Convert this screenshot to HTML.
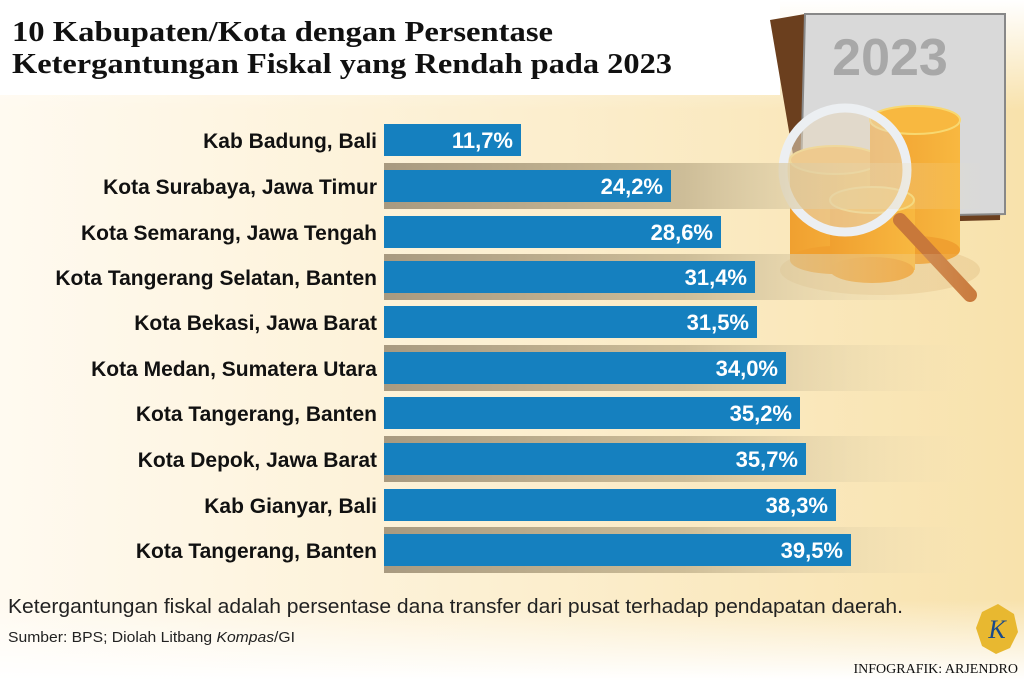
<!DOCTYPE html>
<html><head><meta charset="utf-8"><style>
body{margin:0;width:1024px;height:680px;overflow:hidden;background:#fff}
svg{display:block}
</style></head><body>
<svg width="1024" height="680" viewBox="0 0 1024 680" xmlns="http://www.w3.org/2000/svg">
<defs>
<linearGradient id="bg" x1="0" y1="0" x2="1" y2="0">
<stop offset="0" stop-color="#fffaf0"/><stop offset="0.5" stop-color="#fcefd0"/><stop offset="1" stop-color="#f8e2ac"/>
</linearGradient>
<linearGradient id="fadeTop" x1="0" y1="0" x2="0" y2="1">
<stop offset="0" stop-color="#fff" stop-opacity="1"/><stop offset="1" stop-color="#fff" stop-opacity="0"/>
</linearGradient>
<linearGradient id="fadeBot" x1="0" y1="0" x2="0" y2="1">
<stop offset="0" stop-color="#fff" stop-opacity="0"/><stop offset="1" stop-color="#fff" stop-opacity="1"/>
</linearGradient>
<linearGradient id="band" x1="0" y1="0" x2="1" y2="0">
<stop offset="0" stop-color="#a89a80"/><stop offset="0.5" stop-color="#cdbd98"/><stop offset="1" stop-color="#f5e4b8" stop-opacity="0"/>
</linearGradient>
<linearGradient id="coin" x1="0" y1="0" x2="1" y2="0">
<stop offset="0" stop-color="#f0a030"/><stop offset="1" stop-color="#f8b840"/>
</linearGradient>
</defs>
<rect width="1024" height="680" fill="url(#bg)"/>
<rect width="1024" height="110" fill="url(#fadeTop)"/>
<rect y="600" width="1024" height="80" fill="url(#fadeBot)"/>
<rect y="0" width="780" height="95" fill="#fff"/>

<polygon points="770,20 805,14 1005,14 1000,220 805,225" fill="#6b3f1e"/>
<polygon points="805,14 1005,14 1005,214 800,218" fill="#d9d9d9" stroke="#888" stroke-width="2"/>
<text x="890" y="75" font-family="Liberation Sans, sans-serif" font-weight="bold" font-size="52" fill="#a8a8a8" text-anchor="middle">2023</text>

<g>
<ellipse cx="880" cy="270" rx="100" ry="25" fill="#e8c890" opacity="0.6"/>
<rect x="790" y="160" width="90" height="100" fill="url(#coin)"/>
<ellipse cx="835" cy="260" rx="45" ry="14" fill="#f0a030"/>
<ellipse cx="835" cy="160" rx="45" ry="14" fill="#f5b855" stroke="#f8d870" stroke-width="2"/>
<rect x="870" y="120" width="90" height="130" fill="url(#coin)"/>
<ellipse cx="915" cy="250" rx="45" ry="14" fill="#f0a030"/>
<ellipse cx="915" cy="120" rx="45" ry="14" fill="#f8b840" stroke="#f8d870" stroke-width="2"/>
<rect x="830" y="200" width="85" height="70" fill="url(#coin)"/>
<ellipse cx="872" cy="270" rx="42" ry="13" fill="#f0a030"/>
<ellipse cx="872" cy="200" rx="42" ry="13" fill="#f8b840" stroke="#f8d870" stroke-width="2"/>
<line x1="900" y1="220" x2="970" y2="295" stroke="#c8783a" stroke-width="14" stroke-linecap="round"/>
<circle cx="845" cy="170" r="62" fill="#e8d8c0" fill-opacity="0.55" stroke="#eceff2" stroke-width="9"/>
</g>

<g font-family="Liberation Serif, serif" font-weight="bold" font-size="29" fill="#111">
<text x="12" y="41" textLength="541" lengthAdjust="spacingAndGlyphs">10 Kabupaten/Kota dengan Persentase</text>
<text x="12" y="73" textLength="660" lengthAdjust="spacingAndGlyphs">Ketergantungan Fiskal yang Rendah pada 2023</text>
</g>

<g fill="url(#band)">
<rect x="384" y="163" width="600" height="46"/>
<rect x="384" y="254" width="600" height="46"/>
<rect x="384" y="345" width="600" height="46"/>
<rect x="384" y="436" width="600" height="46"/>
<rect x="384" y="527" width="600" height="46"/>
</g>

<g fill="#1580bf">
<rect x="384" y="124" width="137" height="32"/>
<rect x="384" y="170" width="287" height="32"/>
<rect x="384" y="216" width="337" height="32"/>
<rect x="384" y="261" width="371" height="32"/>
<rect x="384" y="306" width="373" height="32"/>
<rect x="384" y="352" width="402" height="32"/>
<rect x="384" y="397" width="416" height="32"/>
<rect x="384" y="443" width="422" height="32"/>
<rect x="384" y="489" width="452" height="32"/>
<rect x="384" y="534" width="467" height="32"/>
</g>

<g font-family="Liberation Sans, sans-serif" font-weight="bold" font-size="22" fill="#fff" text-anchor="end">
<text x="513" y="148">11,7%</text>
<text x="663" y="194">24,2%</text>
<text x="713" y="240">28,6%</text>
<text x="747" y="285">31,4%</text>
<text x="749" y="330">31,5%</text>
<text x="778" y="376">34,0%</text>
<text x="792" y="421">35,2%</text>
<text x="798" y="467">35,7%</text>
<text x="828" y="513">38,3%</text>
<text x="843" y="558">39,5%</text>
</g>

<g font-family="Liberation Sans, sans-serif" font-weight="bold" font-size="21" fill="#111" text-anchor="end">
<text x="377" y="148">Kab Badung, Bali</text>
<text x="377" y="194">Kota Surabaya, Jawa Timur</text>
<text x="377" y="240">Kota Semarang, Jawa Tengah</text>
<text x="377" y="285">Kota Tangerang Selatan, Banten</text>
<text x="377" y="330">Kota Bekasi, Jawa Barat</text>
<text x="377" y="376">Kota Medan, Sumatera Utara</text>
<text x="377" y="421">Kota Tangerang, Banten</text>
<text x="377" y="467">Kota Depok, Jawa Barat</text>
<text x="377" y="513">Kab Gianyar, Bali</text>
<text x="377" y="558">Kota Tangerang, Banten</text>
</g>

<text x="8" y="613" font-family="Liberation Sans, sans-serif" font-size="20" fill="#222" textLength="895" lengthAdjust="spacingAndGlyphs">Ketergantungan fiskal adalah persentase dana transfer dari pusat terhadap pendapatan daerah.</text>
<text x="8" y="642" font-family="Liberation Sans, sans-serif" font-size="15" fill="#222" textLength="287" lengthAdjust="spacingAndGlyphs">Sumber: BPS; Diolah Litbang <tspan font-style="italic">Kompas</tspan>/GI</text>

<polygon points="998,604 1014,614 1018,632 1010,648 996,654 982,646 976,628 982,612" fill="#e8b830"/>
<text x="997" y="638" font-family="Liberation Serif, serif" font-style="italic" font-size="26" fill="#1a4a8a" text-anchor="middle">K</text>
<text x="1018" y="673" font-family="Liberation Serif, serif" font-size="14" fill="#111" text-anchor="end">INFOGRAFIK: ARJENDRO</text>
</svg>
</body></html>
